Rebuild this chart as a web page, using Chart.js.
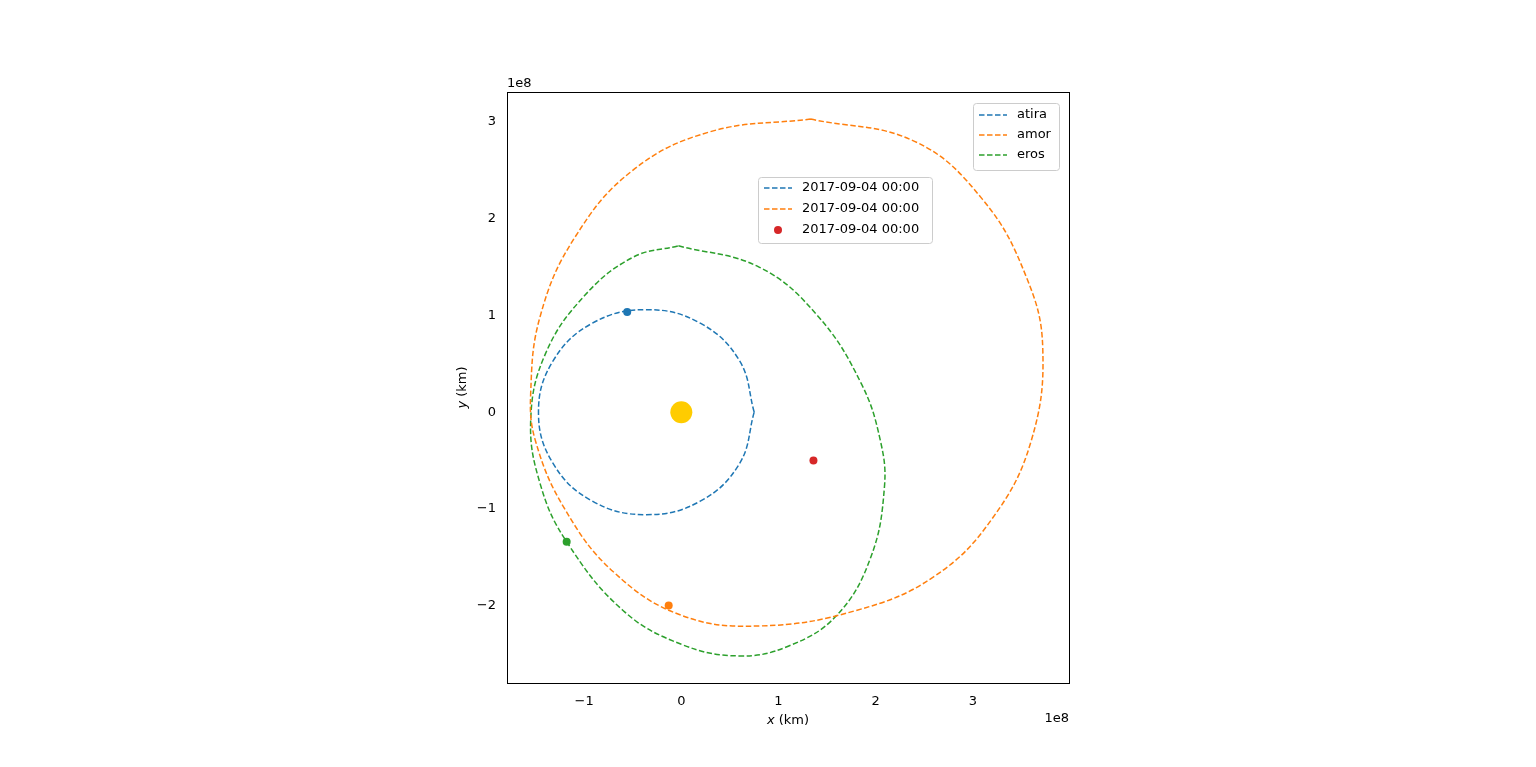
<!DOCTYPE html>
<html>
<head>
<meta charset="utf-8">
<script src="https://cdn.jsdelivr.net/npm/chart.js@4/dist/chart.umd.min.js"></script>
<style>
  html, body { margin: 0; padding: 0; background: #fff; }
  #wrap { width: 1536px; height: 767px; }
</style>
</head>
<body>
<div id="wrap"><canvas id="orbits"></canvas></div>
<script>
// Orbit points, in units of 1e8 km
const atiraX = [0.75, 0.60, 0.195, -0.36, -0.915, -1.32, -1.47, -1.32, -0.915, -0.36, 0.195, 0.60, 0.75];
const atiraY = [0.0, 0.53, 0.92, 1.06, 0.92, 0.53, 0.0, -0.53, -0.92, -1.06, -0.92, -0.53, 0.0];
const amorX = [1.33, 2.4, 3.1, 3.55, 3.72, 3.6, 3.2, 2.6, 1.8, 0.81, 0.0, -0.7, -1.2, -1.5, -1.55, -1.45, -1.1, -0.5, 0.3, 1.33];
const amorY = [3.03, 2.8, 2.2, 1.4, 0.66, -0.3, -1.1, -1.7, -2.05, -2.21, -2.1, -1.65, -1.0, -0.3, 0.2, 1.0, 1.8, 2.5, 2.9, 3.03];
const erosX = [-0.03, 0.8, 1.4, 1.85, 2.05, 2.09, 1.95, 1.6, 1.1, 0.59, 0.0, -0.6, -1.18, -1.45, -1.55, -1.4, -1.0, -0.5, -0.03];
const erosY = [1.72, 1.5, 1.0, 0.3, -0.3, -0.78, -1.5, -2.1, -2.42, -2.52, -2.4, -2.05, -1.34, -0.75, -0.08, 0.6, 1.2, 1.6, 1.72];
const bodyNames = ["atira", "amor", "eros"];
const bodyX = [-0.557, -0.13, -1.18];
const bodyY = [1.035, -2.0, -1.34];
const sunPos = [0, 0];
const earthPos = [1.36, -0.50];
const xTicks = [-1, 0, 1, 2, 3];
const yTicks = [-2, -1, 0, 1, 2, 3];
const dateLabel = "2017-09-04 00:00";
const colors = ["#1f77b4", "#ff7f0e", "#2ca02c"];

const pts = (xs, ys) => xs.map((x, i) => ({ x: x, y: ys[i] }));
const orbitSets = [[atiraX, atiraY], [amorX, amorY], [erosX, erosY]];

const datasets = [];
orbitSets.forEach((o, i) => {
  datasets.push({
    label: bodyNames[i], data: pts(o[0], o[1]), showLine: true, tension: 0.4,
    borderColor: colors[i], borderWidth: 1.5, borderDash: [5.5, 2.5], pointRadius: 0, fill: false
  });
  datasets.push({
    data: [{ x: bodyX[i], y: bodyY[i] }], pointRadius: 4, backgroundColor: colors[i], borderWidth: 0
  });
});
datasets.push({ data: [{ x: sunPos[0], y: sunPos[1] }], pointRadius: 11, backgroundColor: "#ffcc00", borderWidth: 0 });
datasets.push({ data: [{ x: earthPos[0], y: earthPos[1] }], pointRadius: 4, backgroundColor: "#d62728", borderWidth: 0 });

const FONT = "13px 'DejaVu Sans'";

function legendBox(ctx, x, y, w, h, rows) {
  ctx.save();
  ctx.fillStyle = "rgba(255,255,255,0.8)";
  ctx.strokeStyle = "#cccccc";
  ctx.lineWidth = 1;
  ctx.beginPath();
  ctx.roundRect(x + 0.5, y + 0.5, w, h, 3);
  ctx.fill(); ctx.stroke();
  ctx.font = FONT;
  ctx.textBaseline = "middle";
  rows.forEach(r => {
    if (r.dot) {
      ctx.fillStyle = r.color;
      ctx.beginPath(); ctx.arc(x + 20, r.y, 4, 0, Math.PI * 2); ctx.fill();
    } else {
      ctx.strokeStyle = r.color; ctx.lineWidth = 1.5; ctx.setLineDash([5.5, 2.5]);
      ctx.beginPath(); ctx.moveTo(x + 6, r.y); ctx.lineTo(x + 34, r.y); ctx.stroke();
      ctx.setLineDash([]);
    }
    ctx.fillStyle = "#000";
    ctx.fillText(r.text, x + 44, r.y);
  });
  ctx.restore();
}

const decor = {
  id: "decor",
  afterDraw(chart) {
    const ctx = chart.ctx, a = chart.chartArea;
    ctx.save();
    ctx.strokeStyle = "#000"; ctx.lineWidth = 1;
    ctx.strokeRect(a.left + 0.5, a.top + 0.5, a.right - a.left, a.bottom - a.top);
    ctx.fillStyle = "#000"; ctx.font = FONT;
    ctx.textBaseline = "alphabetic";
    ctx.textAlign = "left";
    ctx.fillText("1e8", a.left, a.top - 5);
    ctx.textAlign = "right";
    ctx.fillText("1e8", a.right, a.bottom + 39);
    // axis titles with italic variable
    ctx.textAlign = "left";
    const xi = "italic 13px 'DejaVu Sans'";
    ctx.font = xi; const w1 = ctx.measureText("x").width;
    ctx.font = FONT; const w2 = ctx.measureText(" (km)").width;
    let sx = (a.left + a.right) / 2 - (w1 + w2) / 2;
    ctx.font = xi; ctx.fillText("x", sx, a.bottom + 41);
    ctx.font = FONT; ctx.fillText(" (km)", sx + w1, a.bottom + 41);
    ctx.translate(a.left - 41, (a.top + a.bottom) / 2);
    ctx.rotate(-Math.PI / 2);
    sx = -(w1 + w2) / 2;
    ctx.font = xi; ctx.fillText("y", sx, 0);
    ctx.font = FONT; ctx.fillText(" (km)", sx + w1, 0);
    ctx.restore();

    legendBox(ctx, 973, 103, 86, 67, [
      { y: 115, color: colors[0], text: bodyNames[0] },
      { y: 135, color: colors[1], text: bodyNames[1] },
      { y: 155, color: colors[2], text: bodyNames[2] }
    ]);
    legendBox(ctx, 758, 177, 174, 66, [
      { y: 188, color: colors[0], text: dateLabel },
      { y: 209, color: colors[1], text: dateLabel },
      { y: 230, color: "#d62728", text: dateLabel, dot: true }
    ]);
  }
};

const tickFmt = v => (v < 0 ? "\u2212" + Math.abs(v) : String(v));

new Chart(document.getElementById("orbits"), {
  type: "scatter",
  data: { datasets: datasets },
  plugins: [decor],
  options: {
    responsive: true, maintainAspectRatio: false, animation: false,
    layout: { padding: { left: 447, right: 467, top: 92, bottom: 34 } },
    plugins: { legend: { display: false }, tooltip: { enabled: false } },
    scales: {
      x: {
        type: "linear", min: -1.794, max: 3.99,
        afterBuildTicks: s => { s.ticks = xTicks.map(v => ({ value: v })); },
        afterFit: s => { s.height = 50; },
        grid: { display: false, drawTicks: true },
        border: { display: false },
        ticks: { callback: tickFmt, color: "#000", font: { family: "DejaVu Sans", size: 13 }, maxRotation: 0 }
      },
      y: {
        type: "linear", min: -2.80, max: 3.31,
        afterBuildTicks: s => { s.ticks = yTicks.map(v => ({ value: v })); },
        afterFit: s => { s.width = 60; },
        grid: { display: false },
        border: { display: false },
        ticks: { callback: tickFmt, color: "#000", font: { family: "DejaVu Sans", size: 13 } }
      }
    }
  }
});
</script>
</body>
</html>
